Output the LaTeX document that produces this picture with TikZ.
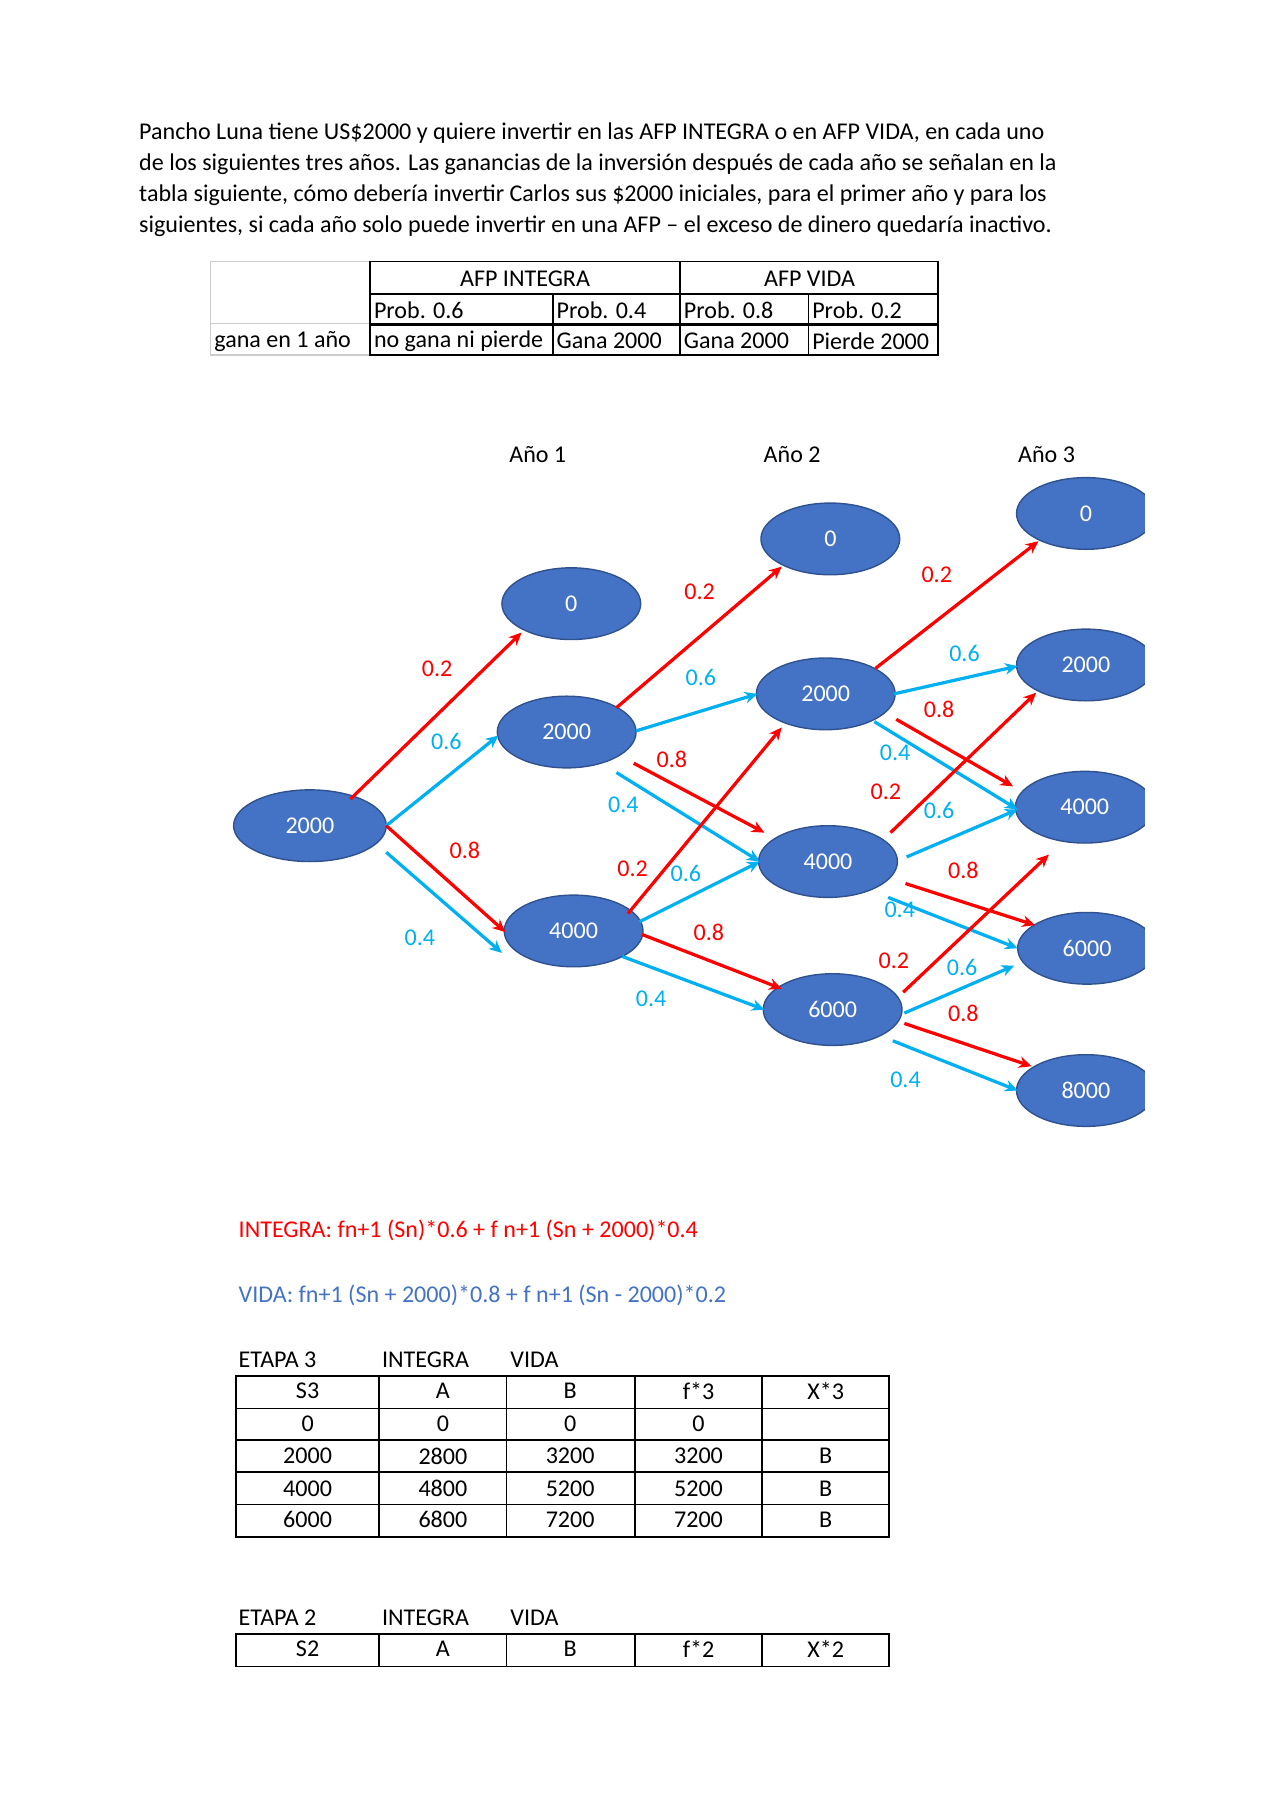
\documentclass[tikz,border=0pt]{standalone}
\usepackage{fontspec}
\setmainfont{Carlito}
\usetikzlibrary{arrows.meta,calc,shapes.geometric}
\definecolor{nb}{RGB}{68,114,196}
\definecolor{nbd}{RGB}{47,82,143}
\definecolor{rr}{RGB}{255,0,0}
\definecolor{bb}{RGB}{0,176,240}
\begin{document}
\begin{tikzpicture}[x=0.5pt,y=-0.5pt,
  every node/.style={font=\fontsize{10.4}{12}\selectfont,inner sep=0pt},
  st/.style={ellipse,fill=nb,draw=nbd,line width=0.6pt,minimum width=60pt,minimum height=31pt,text=white},
  ra/.style={draw=rr,line width=1.4pt,-{Stealth[length=5.5pt,width=5pt]}},
  ba/.style={draw=bb,line width=1.4pt,-{Stealth[length=5.5pt,width=5pt]}},
  rl/.style={text=rr},
  bl/.style={text=bb},
  tx/.style={anchor=west},
  cc/.style={anchor=center}]
\useasboundingbox (0,0) rectangle (1107,1566);
% intro text
\node[tx] (t1) at (120,115) {Pancho Luna tiene US\$2000 y quiere invertir en las AFP INTEGRA o en AFP VIDA, en cada uno};
\node[tx] (t2) at (120,142) {de los siguientes tres años. Las ganancias de la inversión después de cada año se señalan en la};
\node[tx] (t3) at (120,169) {tabla siguiente, cómo debería invertir Carlos sus \$2000 iniciales, para el primer año y para los};
\node[tx] (t4) at (120,196) {siguientes, si cada año solo puede invertir en una AFP -- el exceso de dinero quedaría inactivo.};
% top table
\draw[gray!40,line width=0.6pt] (182,226) -- (320,226) (182,226) -- (182,307) (182,280) -- (320,280) (182,307) -- (320,307);
\draw[line width=0.7pt] (320,226) rectangle (811,307);
\draw[line width=0.7pt] (320,254) -- (811,254) (588,226) -- (588,307) (478,254) -- (478,307) (699,254) -- (699,307);
\draw[line width=1.4pt] (320,280.5) -- (811,280.5);
\node[cc] (h1) at (454,241) {AFP INTEGRA};
\node[cc] (h2) at (700,241) {AFP VIDA};
\node[tx] (p1) at (323,268) {Prob. 0.6};
\node[tx] (p2) at (481,268) {Prob. 0.4};
\node[tx] (p3) at (591,268) {Prob. 0.8};
\node[tx] (p4) at (702,268) {Prob. 0.2};
\node[tx] (g0) at (185,295) {gana en 1 año};
\node[tx] (g1) at (323,295) {no gana ni pierde};
\node[tx] (g2) at (481,295) {Gana 2000};
\node[tx] (g3) at (591,295) {Gana 2000};
\node[tx] (g4) at (702,295) {Pierde 2000};
% year labels
\node (y1) at (465,393) {Año 1};
\node (y2) at (685,393) {Año 2};
\node (y3) at (905,393) {Año 3};
% tree nodes
\node[st,minimum width=66pt] (r) at (268,714) {2000};
\node[st] (a0) at (494,522) {0};
\node[st] (a2) at (490,633) {2000};
\node[st] (a4) at (496,805) {4000};
\node[st] (b0) at (718,466) {0};
\node[st] (b2) at (714,600) {2000};
\node[st] (b4) at (716,745) {4000};
\node[st] (b6) at (720,873) {6000};
\begin{scope}
\clip (0,0) rectangle (990,1566);
\node[st] (c0) at (939,444) {0};
\node[st] (c2) at (939,575) {2000};
\node[st] (c4) at (938,698) {4000};
\node[st] (c6) at (940,820) {6000};
\node[st] (c8) at (939,943) {8000};
\end{scope}
% arrows
\draw[ra] ($(r)+(35,-23)$) -- ($(a0)+(-43,25)$);
\draw[ba] ($(r)+(66,0)$) -- ($(a2)+(-59,3)$);
\draw[ra] ($(r)+(66,0)$) -- ($(a4)+(-59,1)$);
\draw[ba] ($(r)+(66,23)$) -- ($(a4)+(-62,19)$);
\draw[ra] ($(a2)+(43,-21)$) -- ($(b0)+(-42,24)$);
\draw[ba] ($(a2)+(60,-1)$) -- ($(b2)+(-59,0)$);
\draw[ra] ($(a2)+(58,27)$) -- ($(b4)+(-55,-25)$);
\draw[ba] ($(a2)+(43,35)$) -- ($(b4)+(-59,0)$);
\draw[ra] ($(a4)+(47,-15)$) -- ($(b2)+(-38,29)$);
\draw[ba] ($(a4)+(57,-8)$) -- ($(b4)+(-59,0)$);
\draw[ra] ($(a4)+(59,3)$) -- ($(b6)+(-44,-18)$);
\draw[ba] ($(a4)+(42,22)$) -- ($(b6)+(-59,0)$);
\draw[ra] ($(b2)+(43,-22)$) -- ($(c0)+(-41,24)$);
\draw[ba] ($(b2)+(59,0)$) -- ($(c2)+(-59,1)$);
\draw[ra] ($(b2)+(61,22)$) -- ($(c4)+(-62,-18)$);
\draw[ba] ($(b2)+(42,24)$) -- ($(c4)+(-58,2)$);
\draw[ra] ($(b4)+(54,-25)$) -- ($(c2)+(-43,24)$);
\draw[ba] ($(b4)+(68,-4)$) -- ($(c4)+(-58,2)$);
\draw[ra] ($(b4)+(67,19)$) -- ($(c6)+(-45,-20)$);
\draw[ba] ($(b4)+(52,31)$) -- ($(c6)+(-60,0)$);
\draw[ra] ($(b6)+(61,-15)$) -- ($(c4)+(-31,41)$);
\draw[ba] ($(b6)+(62,3)$) -- ($(c6)+(-63,15)$);
\draw[ra] ($(b6)+(62,12)$) -- ($(c8)+(-47,-21)$);
\draw[ba] ($(b6)+(52,27)$) -- ($(c8)+(-59,0)$);
% probability labels
\node[rl] (l1) at (378,578) {0.2};
\node[bl] (l2) at (386,641) {0.6};
\node[rl] (l3) at (402,735) {0.8};
\node[bl] (l4) at (363,811) {0.4};
\node[rl] (l5) at (605,512) {0.2};
\node[bl] (l6) at (606,586) {0.6};
\node[rl] (l7) at (581,657) {0.8};
\node[bl] (l8) at (539,696) {0.4};
\node[rl] (l9) at (547,751) {0.2};
\node[bl] (l10) at (593,755) {0.6};
\node[rl] (l11) at (613,806) {0.8};
\node[bl] (l12) at (563,864) {0.4};
\node[rl] (l13) at (810,497) {0.2};
\node[bl] (l14) at (834,565) {0.6};
\node[rl] (l15) at (812,613) {0.8};
\node[bl] (l16) at (774,651) {0.4};
\node[rl] (l17) at (766,685) {0.2};
\node[bl] (l18) at (812,701) {0.6};
\node[rl] (l19) at (833,753) {0.8};
\node[bl] (l20) at (778,787) {0.4};
\node[rl] (l21) at (773,831) {0.2};
\node[bl] (l22) at (832,837) {0.6};
\node[rl] (l23) at (833,876) {0.8};
\node[bl] (l24) at (783,934) {0.4};
% formulas
\node[tx,text=rr] (f1) at (206,1064) {INTEGRA: fn+1 (Sn)*0.6 + f n+1 (Sn + 2000)*0.4};
\node[tx,text=nb] (f2) at (206,1120) {VIDA: fn+1 (Sn + 2000)*0.8 + f n+1 (Sn - 2000)*0.2};
% etapa 3
\node[tx] (e3) at (206,1176) {ETAPA 3};
\node[tx] (e3i) at (330,1176) {INTEGRA};
\node[tx] (e3v) at (441,1176) {VIDA};
\draw[line width=0.8pt] (204,1190) rectangle (769,1329);
\foreach \x in {328,438,549,659} \draw[line width=0.8pt] (\x,1190) -- (\x,1329);
\foreach \y in {1218,1245,1273,1301} \draw[line width=0.8pt] (204,\y) -- (769,\y);
\node (s30) at (266,1203) {S3};
\node (s31) at (383,1203) {A};
\node (s32) at (493,1203) {B};
\node (s33) at (604,1203) {f*3};
\node (s34) at (714,1203) {X*3};
\node (r10) at (266,1231) {0};
\node (r11) at (383,1231) {0};
\node (r12) at (493,1231) {0};
\node (r13) at (604,1231) {0};
\node (r20) at (266,1259) {2000};
\node (r21) at (383,1259) {2800};
\node (r22) at (493,1259) {3200};
\node (r23) at (604,1259) {3200};
\node (r24) at (714,1259) {B};
\node (r30) at (266,1287) {4000};
\node (r31) at (383,1287) {4800};
\node (r32) at (493,1287) {5200};
\node (r33) at (604,1287) {5200};
\node (r34) at (714,1287) {B};
\node (r40) at (266,1314) {6000};
\node (r41) at (383,1314) {6800};
\node (r42) at (493,1314) {7200};
\node (r43) at (604,1314) {7200};
\node (r44) at (714,1314) {B};
% etapa 2
\node[tx] (e2) at (206,1399) {ETAPA 2};
\node[tx] (e2i) at (330,1399) {INTEGRA};
\node[tx] (e2v) at (441,1399) {VIDA};
\draw[line width=0.8pt] (204,1413) rectangle (769,1441);
\foreach \x in {328,438,549,659} \draw[line width=0.8pt] (\x,1413) -- (\x,1441);
\node (s20) at (266,1426) {S2};
\node (s21) at (383,1426) {A};
\node (s22) at (493,1426) {B};
\node (s23) at (604,1426) {f*2};
\node (s24) at (714,1426) {X*2};
\end{tikzpicture}
\end{document}
